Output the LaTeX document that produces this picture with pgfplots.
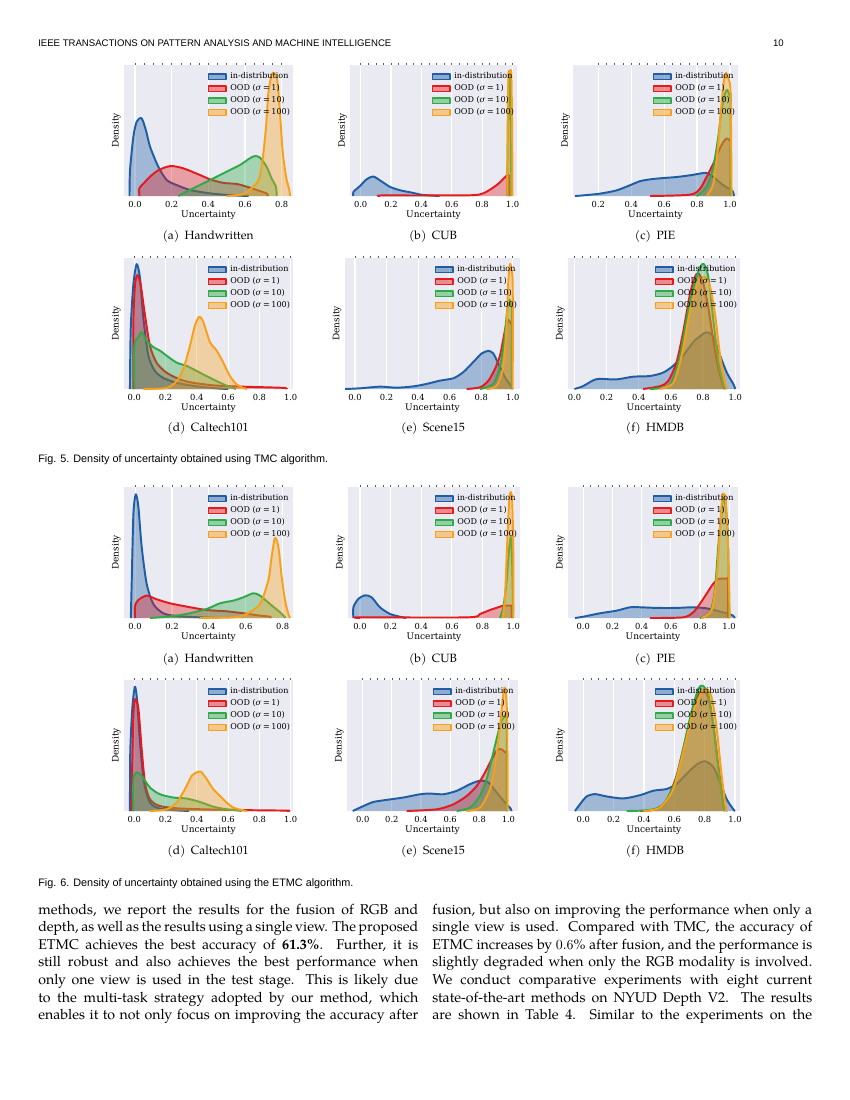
\documentclass[border=0pt]{standalone}
\usepackage{pgfplots}
\pgfplotsset{compat=1.18}
\usepackage{fontspec}
\setmainfont{texgyrepagella}[Extension=.otf, UprightFont=*-regular, BoldFont=*-bold, ItalicFont=*-italic, BoldItalicFont=*-bolditalic]
\newfontfamily\dvs{DejaVu Serif}
\newfontfamily\hel{Liberation Sans}

\definecolor{bgc}{HTML}{EAEAF2}
\definecolor{cb}{HTML}{1F5EA4}
\definecolor{cr}{HTML}{E41A1C}
\definecolor{cg}{HTML}{2EAA48}
\definecolor{co}{HTML}{F8A01A}

\newcommand\sg{\textit{σ}\kern1.2pt=\kern1.2pt}
\newcommand\leglist{\legend{{in-distribution},{OOD (\sg 1)},{OOD (\sg 10)},{OOD (\sg 100)}}}

\pgfplotsset{
  dens/.style={
    scale only axis, height=94.32pt, anchor=south west,
    ymin=0, ymax=1, ytick=\empty,
    axis background/.style={fill=bgc},
    axis line style={draw=none},
    xmajorgrids, major grid style={white, line width=0.8pt},
    xtick pos=right, xticklabel pos=left,
    minor x tick num=3,
    tick align=outside, major tick length=1.6pt, minor tick length=1.6pt,
    tick style={black!65, line width=0.45pt},
    xtick={0,0.2,0.4,0.6,0.8,1.0},
    xticklabel style={anchor=center, yshift=-4.6pt, font=\dvs\fontsize{6}{6.5}\selectfont,
      /pgf/number format/.cd, fixed, fixed zerofill, precision=1, assume math mode=true},
    xlabel={Uncertainty},
    every axis x label/.style={at={(axis description cs:0.5,0)}, anchor=center, yshift=-13.6pt,
      font=\dvs\fontsize{6.5}{7}\selectfont},
    ylabel={Density},
    every axis y label/.style={at={(axis description cs:-0.045,0.5)}, rotate=90, anchor=center,
      font=\dvs\fontsize{6.5}{7}\selectfont},
    legend style={at={(1,1)}, anchor=north east, xshift=-1.5pt, yshift=-5pt, draw=none, fill=none,
      font=\dvs\fontsize{5.8}{6}\selectfont, row sep=2pt, inner sep=0pt,
      nodes={inner sep=0.5pt, text height=4.3pt, text depth=1.3pt},
      /tikz/every odd column/.append style={column sep=2.2pt}},
    legend cell align=left,
    legend image code/.code={\draw[##1, line width=1.1pt, fill opacity=0.45] (0pt,-2.1pt) rectangle (12.5pt,2.1pt);},
  },
  pb/.style={draw=cb, fill=cb, fill opacity=0.36, line width=1.4pt, line join=round, smooth, tension=0.45, mark=none},
  pr/.style={pb, draw=cr, fill=cr},
  pg/.style={pb, draw=cg, fill=cg},
  po/.style={pb, draw=co, fill=co},
}

\begin{document}
\begin{tikzpicture}
\begin{scope}[x=0.72pt, y=-0.72pt]
  \fill[white] (0,0) rectangle (850,1100);
  \path[use as bounding box] (0,0) rectangle (850,1100);
  \coordinate (p1) at (124,196);  \coordinate (p2) at (350,196);  \coordinate (p3) at (573,196);
  \coordinate (p4) at (124,389);  \coordinate (p5) at (345,389);  \coordinate (p6) at (568,389);
  \coordinate (p7) at (124,618);  \coordinate (p8) at (348,618);  \coordinate (p9) at (568,618);
  \coordinate (p10) at (124,811); \coordinate (p11) at (347,811); \coordinate (p12) at (568,811);

  \node[anchor=base west, inner sep=0] at (38,47) {\hel\fontsize{6.9}{8}\selectfont IEEE TRANSACTIONS ON PATTERN ANALYSIS AND MACHINE INTELLIGENCE};
  \node[anchor=base east, inner sep=0] at (784,47) {\hel\fontsize{6.9}{8}\selectfont 10};

  \begin{scope}[every node/.style={anchor=base, inner sep=0, font=\fontsize{8.6}{10}\selectfont}]
    \node at (208,239) {(a)\hspace{0.45em}Handwritten};
    \node at (433,239) {(b)\hspace{0.45em}CUB};
    \node at (655,239) {(c)\hspace{0.45em}PIE};
    \node at (208,431) {(d)\hspace{0.45em}Caltech101};
    \node at (433,431) {(e)\hspace{0.45em}Scene15};
    \node at (655,431) {(f)\hspace{0.45em}HMDB};
    \node at (208,662) {(a)\hspace{0.45em}Handwritten};
    \node at (433,662) {(b)\hspace{0.45em}CUB};
    \node at (655,662) {(c)\hspace{0.45em}PIE};
    \node at (208,854) {(d)\hspace{0.45em}Caltech101};
    \node at (433,854) {(e)\hspace{0.45em}Scene15};
    \node at (655,854) {(f)\hspace{0.45em}HMDB};
  \end{scope}

  \node[anchor=base west, inner sep=0] at (38,462) {\hel\fontsize{7.8}{9}\selectfont Fig. 5. Density of uncertainty obtained using TMC algorithm.};
  \node[anchor=base west, inner sep=0] at (38,886) {\hel\fontsize{7.8}{9}\selectfont Fig. 6. Density of uncertainty obtained using the ETMC algorithm.};

  \begin{scope}[every node/.style={anchor=base west, inner sep=0, font=\fontsize{10.2}{12.7}\selectfont}]
    \node at (38,914)    {\makebox[273.6pt][s]{methods, we report the results for the fusion of RGB and}};
    \node at (38,931.6)  {\makebox[273.6pt][s]{depth, as well as the results using a single view. The proposed}};
    \node at (38,949.2)  {\makebox[273.6pt][s]{ETMC achieves the best accuracy of \textbf{61.3\%}. Further, it is}};
    \node at (38,966.8)  {\makebox[273.6pt][s]{still robust and also achieves the best performance when}};
    \node at (38,984.4)  {\makebox[273.6pt][s]{only one view is used in the test stage. This is likely due}};
    \node at (38,1002)   {\makebox[273.6pt][s]{to the multi-task strategy adopted by our method, which}};
    \node at (38,1019.6) {\makebox[273.6pt][s]{enables it to not only focus on improving the accuracy after}};
    \node at (432,914)    {\makebox[273.6pt][s]{fusion, but also on improving the performance when only a}};
    \node at (432,931.6)  {\makebox[273.6pt][s]{single view is used. Compared with TMC, the accuracy of}};
    \node at (432,949.2)  {\makebox[273.6pt][s]{ETMC increases by $0.6\%$ after fusion, and the performance is}};
    \node at (432,966.8)  {\makebox[273.6pt][s]{slightly degraded when only the RGB modality is involved.}};
    \node at (432,984.4)  {\makebox[273.6pt][s]{We conduct comparative experiments with eight current}};
    \node at (432,1002)   {\makebox[273.6pt][s]{state-of-the-art methods on NYUD Depth V2. The results}};
    \node at (432,1019.6) {\makebox[273.6pt][s]{are shown in Table 4. Similar to the experiments on the}};
  \end{scope}
\end{scope}

% ---------- Fig. 5 (TMC) ----------
\begin{axis}[dens, at={(p1)}, width=121.68pt, xmin=-0.06, xmax=0.862, xtick={0,0.2,0.4,0.6,0.8}]
\addplot[pb] coordinates {(-0.03,0) (-0.027,0.2) (-0.009,0.45) (0.009,0.567) (0.036,0.593) (0.06,0.5) (0.082,0.377) (0.127,0.224) (0.173,0.122) (0.227,0.084) (0.3,0.046) (0.41,0.02) (0.536,0.005) (0.62,0)};
\addplot[pr] coordinates {(0.024,0) (0.024,0.06) (0.05,0.1) (0.082,0.148) (0.12,0.19) (0.155,0.214) (0.2,0.229) (0.264,0.211) (0.355,0.16) (0.41,0.127) (0.482,0.1) (0.555,0.092) (0.61,0.071) (0.664,0.046) (0.718,0.02) (0.725,0)};
\addplot[pg] coordinates {(0.236,0) (0.27,0.025) (0.318,0.059) (0.41,0.122) (0.5,0.186) (0.573,0.237) (0.627,0.288) (0.655,0.305) (0.682,0.293) (0.718,0.224) (0.745,0.135) (0.769,0.071) (0.773,0)};
\addplot[po] coordinates {(0.5,0) (0.59,0.015) (0.645,0.07) (0.678,0.135) (0.696,0.275) (0.715,0.53) (0.727,0.78) (0.745,0.92) (0.758,0.94) (0.776,0.885) (0.79,0.656) (0.805,0.35) (0.824,0.148) (0.842,0.046) (0.846,0)};
\leglist
\end{axis}

\begin{axis}[dens, at={(p2)}, width=120.24pt, xmin=-0.07, xmax=1.03]
\addplot[pb] coordinates {(-0.048,0) (-0.048,0.03) (-0.004,0.077) (0.04,0.128) (0.083,0.149) (0.127,0.12) (0.193,0.07) (0.259,0.044) (0.336,0.026) (0.41,0.008) (0.52,0)};
\addplot[pr] coordinates {(0.127,0) (0.127,0.004) (0.4,0.004) (0.7,0.005) (0.785,0.012) (0.83,0.033) (0.873,0.064) (0.917,0.103) (0.96,0.154) (0.976,0.159) (0.976,0)};
\addplot[pg] coordinates {(0.965,0) (0.97,0.5) (0.976,0.88) (0.984,0.9) (0.99,0.45) (0.993,0)};
\addplot[po] coordinates {(0.966,0) (0.969,0.6) (0.974,0.93) (0.985,0.95) (0.993,0.93) (0.998,0.5) (1.0,0)};
\leglist
\end{axis}

\begin{axis}[dens, at={(p3)}, width=118.8pt, xmin=0.046, xmax=1.049, xtick={0.2,0.4,0.6,0.8,1.0}]
\addplot[pb] coordinates {(0.058,0) (0.1,0.004) (0.21,0.018) (0.311,0.043) (0.392,0.082) (0.453,0.113) (0.514,0.127) (0.575,0.135) (0.676,0.145) (0.757,0.158) (0.818,0.171) (0.858,0.176) (0.899,0.145) (0.96,0.082) (1.016,0.038) (1.024,0)};
\addplot[pr] coordinates {(0.514,0) (0.757,0.01) (0.818,0.056) (0.858,0.145) (0.899,0.247) (0.929,0.337) (0.96,0.413) (0.98,0.439) (0.996,0.426) (1.004,0.4) (1.004,0)};
\addplot[pg] coordinates {(0.797,0) (0.858,0.069) (0.899,0.222) (0.929,0.452) (0.949,0.656) (0.97,0.783) (0.984,0.81) (1.0,0.758) (1.004,0.74) (1.004,0)};
\addplot[po] coordinates {(0.858,0) (0.899,0.094) (0.929,0.4) (0.949,0.707) (0.964,0.885) (0.976,0.94) (0.99,0.898) (1.004,0.78) (1.01,0)};
\leglist
\end{axis}

\begin{axis}[dens, at={(p4)}, width=121.68pt, xmin=-0.066, xmax=1.015]
\addplot[pb] coordinates {(-0.028,0) (-0.023,0.46) (-0.006,0.8) (0.015,0.953) (0.036,0.85) (0.058,0.54) (0.09,0.254) (0.132,0.137) (0.185,0.085) (0.27,0.047) (0.4,0.02) (0.527,0.005) (0.6,0)};
\addplot[pr] coordinates {(-0.006,0) (-0.006,0.51) (0.004,0.79) (0.019,0.87) (0.04,0.8) (0.068,0.565) (0.1,0.33) (0.143,0.2) (0.207,0.124) (0.292,0.073) (0.377,0.047) (0.527,0.026) (0.74,0.016) (0.846,0.013) (0.964,0.008) (0.975,0)};
\addplot[pg] coordinates {(0,0) (0,0.33) (0.026,0.396) (0.047,0.435) (0.079,0.37) (0.122,0.32) (0.164,0.293) (0.207,0.254) (0.27,0.202) (0.335,0.176) (0.4,0.137) (0.463,0.098) (0.527,0.06) (0.59,0.026) (0.633,0.008) (0.65,0)};
\addplot[po] coordinates {(0.058,0) (0.207,0.008) (0.27,0.06) (0.313,0.15) (0.356,0.33) (0.388,0.487) (0.416,0.552) (0.441,0.513) (0.484,0.358) (0.527,0.293) (0.569,0.202) (0.612,0.098) (0.655,0.034) (0.697,0.008) (0.72,0)};
\leglist
\end{axis}

\begin{axis}[dens, at={(p5)}, width=126pt, xmin=-0.063, xmax=1.046]
\addplot[pb] coordinates {(-0.063,0) (0.03,0.005) (0.16,0.018) (0.264,0.01) (0.37,0.02) (0.455,0.039) (0.539,0.064) (0.624,0.082) (0.687,0.129) (0.75,0.206) (0.803,0.271) (0.846,0.291) (0.877,0.271) (0.909,0.193) (0.951,0.09) (0.994,0.013) (1.0,0)};
\addplot[pr] coordinates {(0.708,0) (0.793,0.013) (0.846,0.064) (0.888,0.155) (0.92,0.258) (0.941,0.387) (0.958,0.49) (0.972,0.528) (0.987,0.5) (0.994,0.48) (0.994,0)};
\addplot[pg] coordinates {(0.793,0) (0.877,0.039) (0.92,0.18) (0.945,0.361) (0.962,0.567) (0.977,0.683) (0.989,0.644) (0.994,0.6) (0.994,0)};
\addplot[po] coordinates {(0.835,0) (0.899,0.026) (0.941,0.18) (0.962,0.515) (0.972,0.825) (0.983,0.954) (0.994,0.9) (1.0,0.77) (1.0,0)};
\leglist
\end{axis}

\begin{axis}[dens, at={(p6)}, width=123.84pt, xmin=-0.04, xmax=1.03]
\addplot[pb] coordinates {(0.0,0) (0.052,0.021) (0.115,0.065) (0.156,0.078) (0.26,0.073) (0.365,0.094) (0.469,0.099) (0.552,0.125) (0.615,0.178) (0.677,0.256) (0.74,0.36) (0.792,0.413) (0.823,0.433) (0.865,0.4) (0.906,0.256) (0.948,0.125) (0.99,0.034) (1.0,0)};
\addplot[pr] coordinates {(0.427,0) (0.531,0.021) (0.583,0.06) (0.635,0.204) (0.677,0.439) (0.719,0.726) (0.75,0.856) (0.771,0.883) (0.802,0.804) (0.833,0.62) (0.865,0.36) (0.896,0.151) (0.927,0.021) (0.935,0)};
\addplot[pg] coordinates {(0.469,0) (0.594,0.034) (0.656,0.256) (0.719,0.674) (0.771,0.896) (0.802,0.956) (0.833,0.856) (0.865,0.517) (0.896,0.204) (0.927,0.034) (0.94,0)};
\addplot[po] coordinates {(0.531,0) (0.615,0.047) (0.667,0.256) (0.719,0.595) (0.771,0.817) (0.813,0.856) (0.844,0.778) (0.875,0.569) (0.906,0.256) (0.938,0.047) (0.95,0)};
\leglist
\end{axis}

% ---------- Fig. 6 (ETMC) ----------
\begin{axis}[dens, at={(p7)}, width=121.68pt, xmin=-0.06, xmax=0.856, xtick={0,0.2,0.4,0.6,0.8}]
\addplot[pb] coordinates {(-0.023,0) (-0.018,0.286) (-0.009,0.796) (0.004,0.944) (0.018,0.847) (0.036,0.541) (0.063,0.26) (0.099,0.107) (0.153,0.036) (0.226,0.015) (0.352,0.005) (0.45,0)};
\addplot[pr] coordinates {(0,0) (0,0.094) (0.018,0.138) (0.063,0.171) (0.117,0.143) (0.19,0.112) (0.28,0.087) (0.388,0.061) (0.497,0.051) (0.587,0.036) (0.677,0.018) (0.731,0.01) (0.735,0)};
\addplot[pg] coordinates {(0.081,0) (0.172,0.01) (0.28,0.031) (0.388,0.069) (0.46,0.112) (0.533,0.133) (0.587,0.158) (0.641,0.189) (0.677,0.171) (0.731,0.107) (0.786,0.043) (0.813,0.005) (0.815,0)};
\addplot[po] coordinates {(0.352,0) (0.533,0.005) (0.605,0.031) (0.677,0.107) (0.722,0.286) (0.74,0.464) (0.758,0.612) (0.777,0.541) (0.795,0.311) (0.813,0.133) (0.831,0.031) (0.84,0)};
\leglist
\end{axis}

\begin{axis}[dens, at={(p8)}, width=123.84pt, xmin=-0.078, xmax=1.044]
\addplot[pb] coordinates {(-0.043,0) (-0.043,0.082) (-0.011,0.145) (0.033,0.173) (0.076,0.158) (0.13,0.082) (0.196,0.031) (0.26,0.01) (0.3,0)};
\addplot[pr] coordinates {(0,0) (0,0.005) (0.7,0.005) (0.783,0.031) (0.848,0.061) (0.902,0.082) (0.935,0.094) (0.978,0.094) (0.989,0.09) (0.989,0)};
\addplot[pg] coordinates {(0.913,0) (0.935,0.082) (0.957,0.286) (0.974,0.541) (0.985,0.617) (0.993,0.413) (1.0,0)};
\addplot[po] coordinates {(0.93,0) (0.946,0.158) (0.961,0.592) (0.974,0.898) (0.983,0.962) (0.993,0.898) (1.0,0.54) (1.0,0)};
\leglist
\end{axis}

\begin{axis}[dens, at={(p9)}, width=122.4pt, xmin=-0.105, xmax=1.061]
\addplot[pb] coordinates {(-0.057,0) (0,0.01) (0.114,0.036) (0.228,0.056) (0.32,0.082) (0.388,0.082) (0.502,0.077) (0.639,0.077) (0.753,0.082) (0.845,0.074) (0.913,0.056) (0.982,0.036) (1.027,0.018) (1.039,0)};
\addplot[pr] coordinates {(0.457,0) (0.685,0.005) (0.753,0.043) (0.799,0.107) (0.845,0.184) (0.89,0.26) (0.925,0.298) (0.959,0.301) (0.986,0.3) (0.993,0.29) (0.993,0)};
\addplot[pg] coordinates {(0.8,0) (0.868,0.043) (0.902,0.209) (0.925,0.541) (0.947,0.796) (0.959,0.923) (0.977,0.847) (0.993,0.592) (1.0,0)};
\addplot[po] coordinates {(0.81,0) (0.879,0.056) (0.913,0.286) (0.932,0.592) (0.947,0.847) (0.959,0.949) (0.977,0.898) (0.993,0.541) (1.005,0)};
\leglist
\end{axis}

\begin{axis}[dens, at={(p10)}, width=121.68pt, xmin=-0.066, xmax=1.015]
\addplot[pb] coordinates {(-0.028,0) (-0.026,0.449) (-0.013,0.782) (0.004,0.949) (0.019,0.833) (0.036,0.526) (0.062,0.218) (0.1,0.064) (0.164,0.018) (0.27,0.005) (0.35,0)};
\addplot[pr] coordinates {(-0.017,0) (-0.015,0.27) (-0.006,0.731) (0.004,0.854) (0.026,0.782) (0.047,0.474) (0.068,0.218) (0.1,0.09) (0.164,0.038) (0.313,0.018) (0.633,0.008) (0.974,0.003) (0.975,0)};
\addplot[pg] coordinates {(-0.006,0) (-0.006,0.244) (0.015,0.295) (0.047,0.269) (0.1,0.179) (0.164,0.128) (0.249,0.103) (0.335,0.095) (0.42,0.069) (0.505,0.033) (0.591,0.013) (0.676,0.003) (0.68,0)};
\addplot[po] coordinates {(0.1,0) (0.207,0.013) (0.27,0.064) (0.324,0.167) (0.367,0.269) (0.399,0.295) (0.426,0.3) (0.463,0.244) (0.505,0.167) (0.548,0.115) (0.591,0.064) (0.633,0.026) (0.697,0.005) (0.72,0)};
\leglist
\end{axis}

\begin{axis}[dens, at={(p11)}, width=123.12pt, xmin=-0.108, xmax=1.066]
\addplot[pb] coordinates {(-0.069,0) (0.005,0.038) (0.073,0.069) (0.165,0.085) (0.279,0.103) (0.394,0.128) (0.462,0.133) (0.554,0.128) (0.645,0.154) (0.737,0.205) (0.805,0.231) (0.863,0.218) (0.92,0.141) (0.977,0.064) (1.016,0.018) (1.02,0)};
\addplot[pr] coordinates {(0.302,0) (0.508,0.013) (0.622,0.051) (0.714,0.115) (0.783,0.192) (0.84,0.295) (0.886,0.397) (0.92,0.462) (0.947,0.474) (0.977,0.449) (0.989,0.42) (0.989,0)};
\addplot[pg] coordinates {(0.645,0) (0.737,0.026) (0.805,0.115) (0.851,0.244) (0.897,0.449) (0.931,0.603) (0.954,0.69) (0.975,0.72) (0.989,0.7) (0.989,0)};
\addplot[po] coordinates {(0.714,0) (0.805,0.026) (0.874,0.167) (0.908,0.346) (0.938,0.603) (0.959,0.833) (0.973,0.941) (0.984,0.885) (0.993,0.654) (0.995,0)};
\leglist
\end{axis}

\begin{axis}[dens, at={(p12)}, width=123.84pt, xmin=-0.101, xmax=1.033]
\addplot[pb] coordinates {(-0.055,0) (-0.022,0.052) (0.022,0.111) (0.077,0.129) (0.154,0.111) (0.264,0.096) (0.374,0.121) (0.462,0.155) (0.549,0.168) (0.615,0.207) (0.681,0.284) (0.747,0.354) (0.802,0.38) (0.857,0.336) (0.901,0.22) (0.945,0.09) (0.989,0.013) (1.0,0)};
\addplot[pr] coordinates {(0.374,0) (0.484,0.013) (0.549,0.078) (0.615,0.271) (0.67,0.53) (0.725,0.788) (0.758,0.886) (0.791,0.917) (0.824,0.866) (0.857,0.659) (0.89,0.349) (0.923,0.052) (0.93,0)};
\addplot[pg] coordinates {(0.286,0) (0.44,0.008) (0.527,0.052) (0.604,0.22) (0.659,0.478) (0.714,0.762) (0.758,0.93) (0.787,0.956) (0.824,0.891) (0.857,0.659) (0.89,0.323) (0.923,0.039) (0.93,0)};
\addplot[po] coordinates {(0.396,0) (0.505,0.026) (0.593,0.168) (0.659,0.452) (0.725,0.762) (0.78,0.904) (0.813,0.93) (0.846,0.866) (0.879,0.633) (0.912,0.271) (0.941,0.013) (0.945,0)};
\leglist
\end{axis}
\end{tikzpicture}
\end{document}
